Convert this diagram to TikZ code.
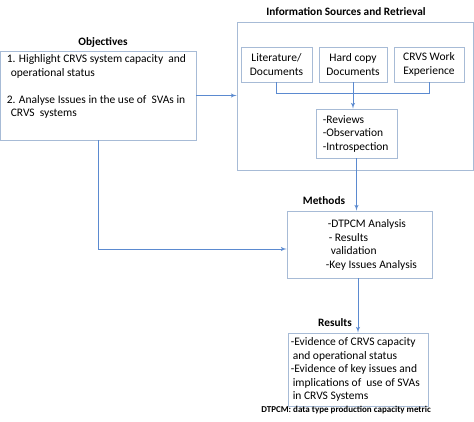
\documentclass[tikz,border=0pt]{standalone}
\usepackage{fontspec}
\setmainfont{Carlito}
\usepackage{xcolor}
\definecolor{BOXCOLOR}{HTML}{A7BBD6}
\definecolor{LINKCOLOR}{HTML}{5B8AD0}
\usepackage{tikz}
\usetikzlibrary{arrows,positioning,calc}
\tikzset{
  box-style/.style = {
    rectangle, draw=BOXCOLOR, thick, inner sep=0pt,
    minimum width=#1
  },
  text-style/.style = {
    inner sep=0pt, align=left,
    font=\fontsize{11.5}{13.5}\selectfont
  },
  src-style/.style = {
    inner sep=0pt, align=center,
    font=\fontsize{11.5}{13.5}\selectfont
  },
  title-style/.style = {
    inner sep=0pt, font=\fontsize{11.3}{13}\selectfont\bfseries
  },
  note-style/.style = {
    inner sep=0pt, font=\fontsize{9}{11}\selectfont\bfseries
  },
  link-style/.style = {
    draw=LINKCOLOR, line width=1pt
  },
  every edge/.style = {draw, ->, >=latex', link-style}
}
\begin{document}
\begin{tikzpicture}[x=1pt,y=1pt]
  \useasboundingbox (0,0) rectangle (474,-421);

  % objectives
  \node[box-style=196pt, minimum height=89pt] (obj) at (98,-95.5) {};
  \node[title-style] (obj-title) at (103,-42) {Objectives};
  \node[text-style, anchor=north west] (obj-text) at ([xshift=7pt,yshift=-4pt]obj.north west)
    {1. Highlight CRVS system capacity\ \ and\\
     \hspace{4pt}operational status\\[13.5pt]
     2. Analyse Issues in the use of\ \ SVAs in\\
     \hspace{4pt}CRVS\ \ systems};

  % information sources and retrieval
  \node[box-style=236pt, minimum height=148pt] (info) at (355,-96) {};
  \node[title-style] (info-title) at (346,-12) {Information Sources and Retrieval};
  \node[box-style=71pt, minimum height=35pt] (lit) at (276.5,-64.5) {};
  \node[src-style] (lit-text) at (lit) {Literature/\\Documents};
  \node[box-style=68pt, minimum height=35pt] (hard) at (353,-64.5) {};
  \node[src-style] (hard-text) at (hard) {Hard copy\\Documents};
  \node[box-style=70pt, minimum height=35pt] (work) at (429,-64.5) {};
  \node[src-style] (work-text) at (work) {CRVS Work\\Experience};
  \node[box-style=81pt, minimum height=49pt] (reviews) at (356.5,-133.5) {};
  \node[text-style, anchor=west] (reviews-text) at ([xshift=7pt]reviews.west)
    {-Reviews\\-Observation\\-Introspection};

  % methods
  \node[box-style=145pt, minimum height=67pt] (methods) at (359.5,-244.5) {};
  \node[title-style] (methods-title) at (324,-201) {Methods};
  \node[text-style, anchor=west] (methods-text) at ([xshift=39pt,yshift=-0.5pt]methods.west)
    {\hspace{2pt}-DTPCM Analysis\\
     \hspace{3pt}- Results\\
     \hspace{5pt}validation\\
     -Key Issues Analysis};

  % results
  \node[box-style=140pt, minimum height=73pt] (results) at (358,-369.5) {};
  \node[title-style] (results-title) at (335,-323) {Results};
  \node[text-style, anchor=west] (results-text) at ([xshift=3pt]results.west)
    {-Evidence of CRVS capacity\\
     \hspace{2pt}and operational status\\
     -Evidence of key issues and\\
     \hspace{2pt}implications of\ \ use of SVAs\\
     \hspace{2pt}in CRVS Systems};
  \node[note-style] (note) at (346,-410) {DTPCM: data type production capacity metric};

  % connectors
  \coordinate (join) at ($(hard.south)+(0,-11)$);
  \draw[link-style] (lit.south) -- (lit.south |- join) -- (work.south |- join) -- (work.south);
  \path (hard.south) edge (hard.south |- reviews.north);
  \path (obj.east) edge (obj.east -| info.west);
  \path (reviews.south) edge (reviews.south |- methods.north);
  \draw[link-style, ->, >=latex'] (obj.south) |- ([yshift=-4.5pt]methods.west);
  \path (methods.south -| results.north) edge (results.north);
\end{tikzpicture}
\end{document}
